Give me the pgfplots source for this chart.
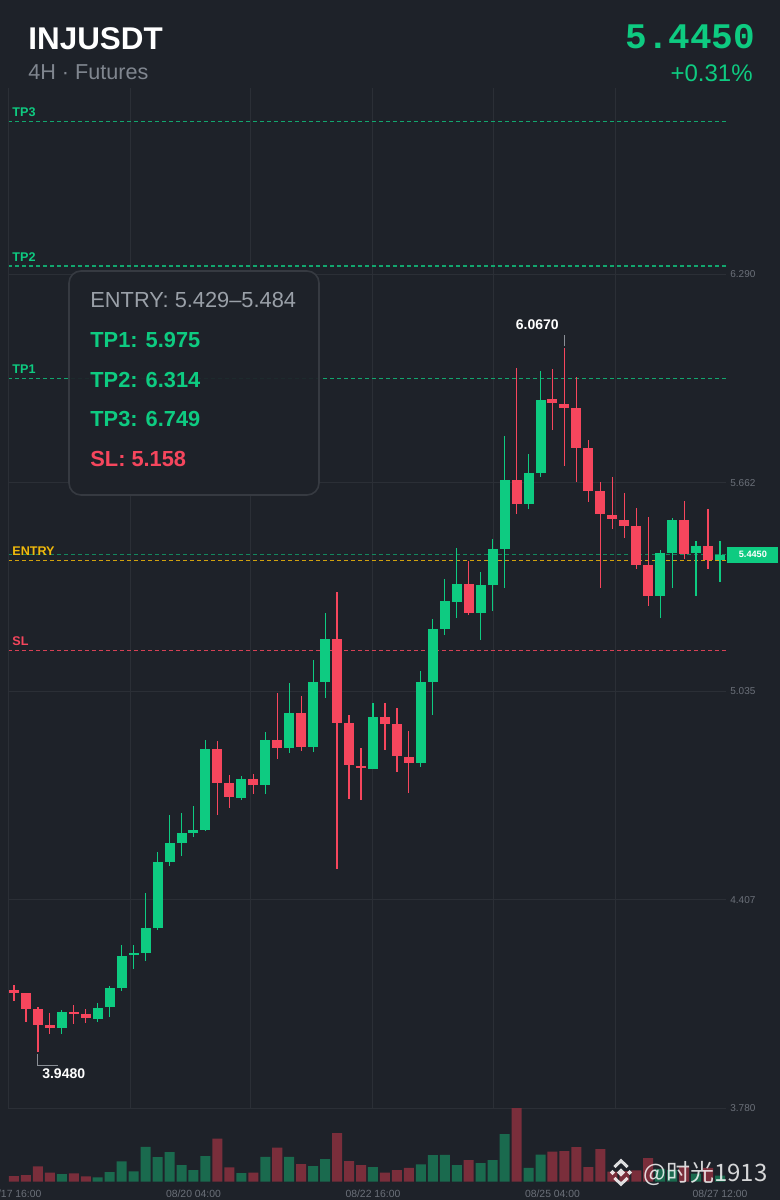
\documentclass[border=0pt]{standalone}
\usepackage{pgfplots}
\pgfplotsset{compat=1.18}
\usepackage{pgfplotstable}
\usepackage{fontspec}
\setmainfont{Liberation Sans}
\newfontfamily\monofont{Liberation Mono}
\newfontfamily\cjk{Noto Sans CJK SC}

\definecolor{bg}{HTML}{1E2229}
\definecolor{gridc}{HTML}{2B2F36}
\definecolor{cgreen}{HTML}{0ECB81}
\definecolor{cred}{HTML}{F6465D}
\definecolor{vgreen}{HTML}{1A6A4E}
\definecolor{vred}{HTML}{7A2E3B}
\definecolor{cyellow}{HTML}{F0B90B}
\definecolor{tickc}{HTML}{6B7079}
\definecolor{hgrey}{HTML}{80868F}
\definecolor{boxb}{HTML}{363A41}
\definecolor{entryg}{HTML}{9AA0A8}
\definecolor{leadc}{HTML}{8A8F96}

% i open high low close volume
\pgfplotstableread{
i o h l c v
4 4.020 4.075 4.002 4.069 7.7
7 4.049 4.097 4.040 4.082 4.3
8 4.083 4.147 4.055 4.140 9.7
9 4.140 4.271 4.132 4.238 20.3
10 4.240 4.270 4.198 4.246 10.3
11 4.246 4.428 4.223 4.321 35.0
12 4.321 4.550 4.316 4.520 24.7
13 4.520 4.661 4.508 4.578 29.7
14 4.578 4.667 4.538 4.609 16.7
15 4.609 4.690 4.597 4.617 11.7
16 4.618 4.887 4.615 4.860 25.7
19 4.714 4.779 4.707 4.769 8.7
21 4.751 4.912 4.726 4.888 25.0
23 4.864 5.058 4.849 4.969 25.0
25 4.867 5.128 4.852 5.061 15.7
26 5.061 5.270 5.015 5.192 22.7
30 4.801 4.999 4.799 4.957 14.7
34 4.817 5.096 4.805 5.062 17.3
35 5.062 5.251 4.964 5.222 26.7
36 5.222 5.372 5.204 5.306 27.0
37 5.304 5.465 5.256 5.356 16.7
39 5.271 5.393 5.189 5.354 18.7
40 5.354 5.493 5.277 5.462 21.7
41 5.462 5.802 5.346 5.669 47.7
43 5.597 5.747 5.582 5.690 14.0
44 5.690 5.998 5.680 5.911 27.3
54 5.320 5.459 5.256 5.450 13.0
55 5.450 5.556 5.346 5.551 12.0
57 5.450 5.486 5.322 5.472 8.0
59 5.429 5.486 5.362 5.445 6.0
}\greendata

\pgfplotstableread{
i o h l c v
0 4.135 4.150 4.103 4.127 5.7
1 4.125 4.127 4.040 4.079 6.7
2 4.079 4.084 3.948 4.030 15.3
3 4.030 4.065 4.003 4.021 9.0
5 4.068 4.089 4.032 4.062 8.3
6 4.062 4.078 4.035 4.050 5.3
17 4.860 4.884 4.663 4.759 43.3
18 4.758 4.781 4.684 4.715 14.3
20 4.769 4.785 4.725 4.751 9.0
22 4.888 5.028 4.830 4.864 34.3
24 4.969 5.019 4.855 4.867 17.7
27 5.192 5.333 4.500 4.939 48.7
28 4.939 4.963 4.711 4.812 20.7
29 4.810 4.864 4.708 4.804 16.7
31 4.957 4.999 4.857 4.937 9.0
32 4.935 4.984 4.790 4.839 11.7
33 4.836 4.914 4.729 4.818 14.0
38 5.356 5.425 5.264 5.271 21.7
42 5.669 6.008 5.569 5.597 74.0
45 5.913 6.004 5.820 5.901 30.3
46 5.900 6.067 5.713 5.886 30.7
47 5.887 5.979 5.664 5.766 34.7
48 5.766 5.790 5.605 5.638 14.7
49 5.638 5.663 5.346 5.567 32.7
50 5.565 5.679 5.524 5.552 10.0
51 5.550 5.630 5.496 5.531 10.7
52 5.531 5.585 5.401 5.414 11.3
53 5.414 5.560 5.291 5.320 23.7
56 5.551 5.607 5.432 5.449 15.0
58 5.472 5.583 5.403 5.429 14.0
}\reddata

\begin{document}
\begin{tikzpicture}
\fill[bg] (0pt,0pt) rectangle (390pt,600pt);

% ---------- price pane ----------
\begin{axis}[
  at={(4pt,46pt)}, anchor=south west, scale only axis,
  width=359pt, height=510pt,
  xmin=-0.5, xmax=59.5, ymin=3.78, ymax=6.85,
  axis line style={draw=none},
  major tick length=0pt,
  xtick={9.7,19.8,30,40.1,50.3}, xticklabels={},
  extra x ticks={-0.5}, extra x tick labels={}, extra x tick style={grid=major},
  xmajorgrids, ymajorgrids,
  grid style={color=gridc, line width=0.5pt},
  ytick={3.780,4.407,5.035,5.662,6.290},
  yticklabels={3.780,4.407,5.035,5.662,6.290},
  yticklabel pos=right,
  yticklabel style={font=\fontsize{5}{6}\selectfont, text=tickc, anchor=west, inner sep=0pt, xshift=2pt},
  clip=false,
]
% level lines
\addplot[color=cgreen!78!bg, line width=0.6pt, dash pattern=on 2pt off 1.5pt] coordinates {(-0.5,6.749) (59.5,6.749)};
\addplot[color=cgreen!78!bg, line width=0.6pt, dash pattern=on 2pt off 1.5pt] coordinates {(-0.5,6.314) (59.5,6.314)};
\addplot[color=cgreen!78!bg, line width=0.6pt, dash pattern=on 2pt off 1.5pt] coordinates {(-0.5,5.975) (59.5,5.975)};
\addplot[color=cred!85!bg, line width=0.6pt, dash pattern=on 2pt off 1.5pt] coordinates {(-0.5,5.158) (59.5,5.158)};
\addplot[color=cgreen!60!bg, line width=0.6pt, dash pattern=on 2pt off 1.5pt] coordinates {(-0.5,5.445) (59.5,5.445)};
\addplot[color=cyellow!85!bg, line width=0.6pt, dash pattern=on 2pt off 1.5pt] coordinates {(-0.5,5.429) (59.5,5.429)};

% wicks
\addplot[draw=none, mark=none, error bars/.cd, y dir=both, y explicit, error mark=none,
  error bar style={draw=cgreen, line width=0.6pt}]
  table[x=i, y expr={(\thisrow{h}+\thisrow{l})/2}, y error expr={(\thisrow{h}-\thisrow{l})/2}] {\greendata};
\addplot[draw=none, mark=none, error bars/.cd, y dir=both, y explicit, error mark=none,
  error bar style={draw=cred, line width=0.6pt}]
  table[x=i, y expr={(\thisrow{h}+\thisrow{l})/2}, y error expr={(\thisrow{h}-\thisrow{l})/2}] {\reddata};
% bodies
\addplot[draw=none, mark=none, error bars/.cd, y dir=both, y explicit, error mark=none,
  error bar style={draw=cgreen, line width=5pt}]
  table[x=i, y expr={(\thisrow{o}+\thisrow{c})/2}, y error expr={max(abs(\thisrow{c}-\thisrow{o})/2,0.003)}] {\greendata};
\addplot[draw=none, mark=none, error bars/.cd, y dir=both, y explicit, error mark=none,
  error bar style={draw=cred, line width=5pt}]
  table[x=i, y expr={(\thisrow{o}+\thisrow{c})/2}, y error expr={max(abs(\thisrow{c}-\thisrow{o})/2,0.003)}] {\reddata};

% left border
\addplot[color=gridc, line width=0.5pt] coordinates {(-0.5,3.78) (-0.5,6.85)};

% level labels
\node[anchor=base west, inner sep=0pt, font=\bfseries\fontsize{6.3}{7}\selectfont, text=cgreen, xshift=2pt, yshift=2.4pt] at (axis cs:-0.5,6.749) {TP3};
\node[anchor=base west, inner sep=0pt, font=\bfseries\fontsize{6.3}{7}\selectfont, text=cgreen, xshift=2pt, yshift=2.4pt] at (axis cs:-0.5,6.314) {TP2};
\node[anchor=base west, inner sep=0pt, font=\bfseries\fontsize{6.3}{7}\selectfont, text=cgreen, xshift=2pt, yshift=2.4pt] at (axis cs:-0.5,5.975) {TP1};
\node[anchor=base west, inner sep=0pt, font=\bfseries\fontsize{6.3}{7}\selectfont, text=cyellow, xshift=2pt, yshift=2.4pt] at (axis cs:-0.5,5.429) {ENTRY};
\node[anchor=base west, inner sep=0pt, font=\bfseries\fontsize{6.3}{7}\selectfont, text=cred, xshift=2pt, yshift=2.2pt] at (axis cs:-0.5,5.158) {SL};

% high / low annotations
\addplot[color=leadc, line width=0.5pt] coordinates {(46,6.072) (46,6.107)};
\node[inner sep=0pt, font=\bfseries\fontsize{7}{8}\selectfont, text=white, xshift=-13.6pt, yshift=11.5pt] at (axis cs:46,6.067) {6.0670};
\addplot[color=leadc, line width=0.5pt] coordinates {(2,3.9425) (2,3.9073) (3.65,3.9073)};
\node[anchor=north west, inner sep=0pt, font=\bfseries\fontsize{7}{8}\selectfont, text=white, xshift=2pt, yshift=-1.4pt] at (axis cs:2,3.9073) {3.9480};

% price tag
\node[anchor=west, fill=cgreen, inner sep=0pt, minimum width=25.5pt, minimum height=8pt, font=\bfseries\fontsize{4.6}{5}\selectfont, text=white, xshift=0.5pt] at (axis cs:59.5,5.445) {5.4450};
\end{axis}

% ---------- volume pane ----------
\begin{axis}[
  at={(4pt,9.15pt)}, anchor=south west, scale only axis,
  width=359pt, height=36.85pt,
  xmin=-0.5, xmax=59.5, ymin=0, ymax=74,
  axis line style={draw=none},
  major tick length=0pt,
  ytick=\empty,
  xtick={0,15,30,45,59},
  xticklabels={08/17 16:00,08/20 04:00,08/22 16:00,08/25 04:00,08/27 12:00},
  xticklabel style={font=\fontsize{5.2}{6}\selectfont, text=tickc, anchor=base, inner sep=0pt, yshift=-7.9pt},
  clip=false,
]
\addplot[ybar, bar width=5pt, bar shift=0pt, fill=vgreen, draw=none] table[x=i, y=v] {\greendata};
\addplot[ybar, bar width=5pt, bar shift=0pt, fill=vred, draw=none] table[x=i, y=v] {\reddata};
\end{axis}

% ---------- info box ----------
\draw[boxb, line width=0.8pt, fill=bg, fill opacity=0.93, rounded corners=6pt] (34.5pt,352.5pt) rectangle (159.5pt,464.5pt);
\node[anchor=west, inner sep=0pt, font=\fontsize{10.9}{12}\selectfont, text=entryg] at (45pt,450pt) {ENTRY: 5.429–5.484};
\node[anchor=west, inner sep=0pt, font=\bfseries\fontsize{10.9}{12}\selectfont, text=cgreen] at (45pt,430pt) {TP1: 5.975};
\node[anchor=west, inner sep=0pt, font=\bfseries\fontsize{10.9}{12}\selectfont, text=cgreen] at (45pt,410pt) {TP2: 6.314};
\node[anchor=west, inner sep=0pt, font=\bfseries\fontsize{10.9}{12}\selectfont, text=cgreen] at (45pt,390.5pt) {TP3: 6.749};
\node[anchor=west, inner sep=0pt, font=\bfseries\fontsize{10.9}{12}\selectfont, text=cred] at (45pt,370.5pt) {SL: 5.158};

% ---------- header ----------
\node[anchor=base west, inner sep=0pt, font=\bfseries\fontsize{15.7}{18}\selectfont, text=white] at (14pt,575pt) {INJUSDT};
\node[anchor=base west, inner sep=0pt, font=\fontsize{10.8}{12}\selectfont, text=hgrey] at (14pt,560pt) {4H · Futures};
\node[anchor=base east, inner sep=0pt, font=\monofont\bfseries\fontsize{18}{20}\selectfont, text=cgreen] at (377.8pt,575.85pt) {5.4450};
\node[anchor=base east, inner sep=0pt, font=\fontsize{12}{13}\selectfont, text=cgreen] at (376.5pt,559.15pt) {+0.31\%};

% ---------- watermark ----------
\begin{scope}[shift={(310.5pt,13.75pt)}, opacity=0.85]
  \fill[white] (0pt,2.1pt) -- (2.1pt,0pt) -- (0pt,-2.1pt) -- (-2.1pt,0pt) -- cycle;
  \fill[white] (-4.3pt,1.3pt) -- (-3pt,0pt) -- (-4.3pt,-1.3pt) -- (-5.6pt,0pt) -- cycle;
  \fill[white] (4.3pt,1.3pt) -- (5.6pt,0pt) -- (4.3pt,-1.3pt) -- (3pt,0pt) -- cycle;
  \draw[white, line width=1.5pt] (-3.3pt,2.7pt) -- (0pt,5.9pt) -- (3.3pt,2.7pt);
  \draw[white, line width=1.5pt] (-3.3pt,-2.7pt) -- (0pt,-5.9pt) -- (3.3pt,-2.7pt);
\end{scope}
\node[anchor=base west, inner sep=0pt, font=\cjk\fontsize{12}{14}\selectfont, text=white, opacity=0.82] at (321.5pt,9.15pt) {@时光1913};

\pgfresetboundingbox
\path[use as bounding box] (0pt,0pt) rectangle (390pt,600pt);
\end{tikzpicture}
\end{document}
